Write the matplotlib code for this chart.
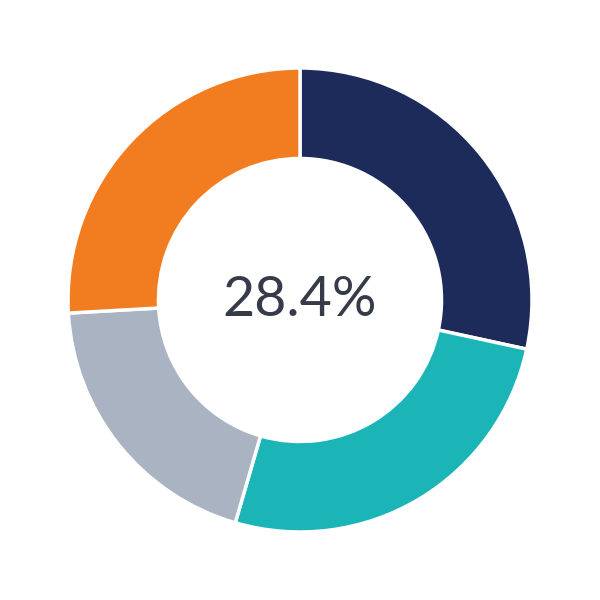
import matplotlib.pyplot as plt

labels = ['Navy', 'Teal', 'Gray', 'Orange']
values = [28.4, 26.1, 19.6, 25.9]
colors = ['#1c2b5a', '#1bb5b8', '#a9b3c1', '#f27c20']
center_label = '28.4%'

fig = plt.figure(figsize=(6, 6), dpi=100)
ax = fig.add_axes([0, 0, 1, 1])
ax.pie(values, colors=colors, startangle=90, counterclock=False, radius=1,
       wedgeprops=dict(width=0.39, edgecolor='white', linewidth=2.5))
lim = 300 / 232
ax.set_xlim(-lim, lim)
ax.set_ylim(-lim, lim)
ax.set_aspect('equal')
ax.axis('off')
ax.text(0, 0, center_label, ha='center', va='center', fontsize=40,
        color='#353b48', family=['Lato', 'DejaVu Sans'], fontweight='normal')
fig.savefig('out.png', dpi=100, facecolor='white')
